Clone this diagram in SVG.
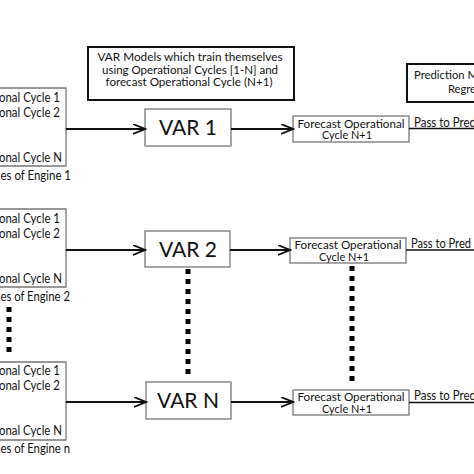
<svg xmlns="http://www.w3.org/2000/svg" width="474" height="474" viewBox="0 0 474 474">
<defs>
<style>
.t{font-family:Lato,"Open Sans","Liberation Sans",sans-serif;fill:#111}
.s{font-size:13px}
.p{font-size:11.5px}
.h{font-size:11px}
.f{font-size:10.5px}
.v{font-size:21px}
.gb{fill:#fff;stroke:#777;stroke-width:1.3}
.bb{fill:#fff;stroke:#111;stroke-width:2}
.ln{stroke:#111;stroke-width:2;fill:none}
.pl{stroke:#111;stroke-width:1.5;fill:none}
.dt{stroke:#000;stroke-width:5;stroke-dasharray:5 5;fill:none}
</style>
<marker id="ah" markerUnits="userSpaceOnUse" markerWidth="14" markerHeight="12" refX="12" refY="5.5" orient="auto">
<path d="M0,0.5 L12,5.5 L0,10.5" fill="none" stroke="#111" stroke-width="1.8"/>
</marker>
</defs>
<rect width="474" height="474" fill="#fff"/>

<g id="title">
<rect class="bb" x="88" y="47" width="206" height="53"/>
<text class="t h" x="190" y="61" text-anchor="middle" textLength="185" lengthAdjust="spacingAndGlyphs">VAR Models which train themselves</text>
<text class="t h" x="190" y="73.5" text-anchor="middle" textLength="176" lengthAdjust="spacingAndGlyphs">using Operational Cycles [1-N] and</text>
<text class="t h" x="189" y="86" text-anchor="middle" textLength="167" lengthAdjust="spacingAndGlyphs">forecast Operational Cycle (N+1)</text>
</g>

<g id="prediction">
<path class="bb" d="M476,64 H407 V102 H476"/>
<text class="t p" x="414" y="79" textLength="64" lengthAdjust="spacingAndGlyphs">Prediction M</text>
<text class="t p" x="448" y="93" textLength="28" lengthAdjust="spacingAndGlyphs">Regre</text>
</g>

<g id="engine1">
<path class="gb" d="M-2,88 H66 V166 H-2"/>
<text class="t s" x="-1" y="102" textLength="61" lengthAdjust="spacingAndGlyphs">onal Cycle 1</text>
<text class="t s" x="-1" y="117" textLength="61" lengthAdjust="spacingAndGlyphs">onal Cycle 2</text>
<text class="t s" x="-1" y="162" textLength="63" lengthAdjust="spacingAndGlyphs">onal Cycle N</text>
<text class="t s" x="0.5" y="180" textLength="70.5" lengthAdjust="spacingAndGlyphs">es of Engine 1</text>
</g>
<g id="engine2">
<path class="gb" d="M-2,209 H66 V287 H-2"/>
<text class="t s" x="-1" y="223" textLength="61" lengthAdjust="spacingAndGlyphs">onal Cycle 1</text>
<text class="t s" x="-1" y="238" textLength="61" lengthAdjust="spacingAndGlyphs">onal Cycle 2</text>
<text class="t s" x="-1" y="283" textLength="63" lengthAdjust="spacingAndGlyphs">onal Cycle N</text>
<text class="t s" x="0.5" y="301" textLength="69.5" lengthAdjust="spacingAndGlyphs">es of Engine 2</text>
</g>
<g id="enginen">
<path class="gb" d="M-2,362 H66 V440 H-2"/>
<text class="t s" x="-1" y="375" textLength="61" lengthAdjust="spacingAndGlyphs">onal Cycle 1</text>
<text class="t s" x="-1" y="390" textLength="61" lengthAdjust="spacingAndGlyphs">onal Cycle 2</text>
<text class="t s" x="-1" y="435" textLength="63" lengthAdjust="spacingAndGlyphs">onal Cycle N</text>
<text class="t s" x="0.5" y="453" textLength="69.5" lengthAdjust="spacingAndGlyphs">es of Engine n</text>
</g>

<g id="var1">
<rect class="gb" x="145" y="109" width="86" height="37"/>
<text class="t v" x="188" y="135" text-anchor="middle">VAR 1</text>
</g>
<g id="var2">
<rect class="gb" x="145" y="231" width="85" height="36"/>
<text class="t v" x="188" y="257" text-anchor="middle">VAR 2</text>
</g>
<g id="varn">
<rect class="gb" x="146" y="382" width="85" height="37"/>
<text class="t v" x="188" y="408" text-anchor="middle">VAR N</text>
</g>

<g id="forecast1">
<rect class="gb" x="293" y="116" width="116" height="26"/>
<text class="t f" x="351" y="127.5" text-anchor="middle" textLength="107" lengthAdjust="spacingAndGlyphs">Forecast Operational</text>
<text class="t f" x="347" y="139" text-anchor="middle" textLength="50" lengthAdjust="spacingAndGlyphs">Cycle N+1</text>
</g>
<g id="forecast2">
<rect class="gb" x="290" y="238" width="116" height="25"/>
<text class="t f" x="348" y="249" text-anchor="middle" textLength="107" lengthAdjust="spacingAndGlyphs">Forecast Operational</text>
<text class="t f" x="344" y="260.5" text-anchor="middle" textLength="50" lengthAdjust="spacingAndGlyphs">Cycle N+1</text>
</g>
<g id="forecastn">
<rect class="gb" x="293" y="390" width="116" height="25"/>
<text class="t f" x="351" y="401" text-anchor="middle" textLength="107" lengthAdjust="spacingAndGlyphs">Forecast Operational</text>
<text class="t f" x="347" y="412.5" text-anchor="middle" textLength="50" lengthAdjust="spacingAndGlyphs">Cycle N+1</text>
</g>

<g id="connectors">
<line class="ln" x1="66" y1="129" x2="145" y2="129" marker-end="url(#ah)"/>
<line class="ln" x1="231" y1="129" x2="293" y2="129" marker-end="url(#ah)"/>
<line class="ln" x1="66" y1="250" x2="145" y2="250" marker-end="url(#ah)"/>
<line class="ln" x1="230" y1="250" x2="290" y2="250" marker-end="url(#ah)"/>
<line class="ln" x1="66" y1="402" x2="146" y2="402" marker-end="url(#ah)"/>
<line class="ln" x1="231" y1="402" x2="293" y2="402" marker-end="url(#ah)"/>
<line class="pl" x1="409" y1="128.5" x2="474" y2="128.5"/>
<line class="pl" x1="406" y1="250" x2="474" y2="250"/>
<line class="pl" x1="409" y1="402.5" x2="474" y2="402.5"/>
<line class="dt" x1="9" y1="307" x2="9" y2="357"/>
<line class="dt" x1="188" y1="269" x2="188" y2="379"/>
<line class="dt" x1="352" y1="266" x2="352" y2="386"/>
<text class="t s" x="414" y="127" textLength="62" lengthAdjust="spacingAndGlyphs">Pass to Pred</text>
<text class="t s" x="411" y="248" textLength="60" lengthAdjust="spacingAndGlyphs">Pass to Pred</text>
<text class="t s" x="414" y="400" textLength="62" lengthAdjust="spacingAndGlyphs">Pass to Pred</text>
</g>
</svg>
